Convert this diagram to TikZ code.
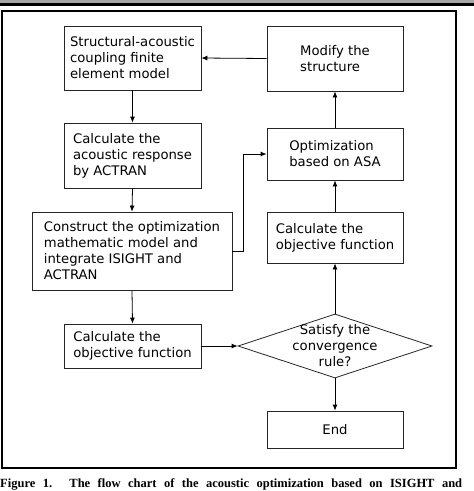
\documentclass[tikz,border=0pt]{standalone}
\usepackage{fontspec}
\setmainfont{DejaVu Sans}
\newfontfamily\capfont{Liberation Serif}
\usetikzlibrary{arrows.meta,shapes.geometric}
\begin{document}
\begin{tikzpicture}[x=1pt,y=-1pt,
  box/.style={draw=black!85, line width=0.8pt, inner sep=0pt, align=left,
    font=\fontsize{13.2}{16}\selectfont, minimum width=137, minimum height=#1},
  arr/.style={line width=0.8pt, -{Latex[length=6pt,width=5pt]}}]
\useasboundingbox (0,0) rectangle (474,491);
\clip (0,0) rectangle (474,491);
% top rule
\fill[black!35] (0,0) rectangle (474,2.5);
\fill[black] (0,3.3) rectangle (474,5.5);
% frame
\draw[line width=2pt] (1.5,11) rectangle (456,468);
% left column
\node[box=64] (b1) at (132.5,58) {Structural-acoustic\\coupling finite\\element model};
\node[box=65] (b2) at (132.5,155.5) {Calculate the\\acoustic response\\by ACTRAN};
\node[box=78, minimum width=200] (b3) at (132,251) {Construct the optimization\\mathematic model and\\integrate ISIGHT and\\ACTRAN};
\node[box=44] (b4) at (132.5,346) {Calculate the\\objective function};
% right column
\node[box=65, minimum width=136] (m) at (335,58.5) {Modify the\\structure};
\node[box=52, minimum width=136] (o) at (335,154) {Optimization\\based on ASA};
\node[box=51, minimum width=136] (c) at (335,237.5) {Calculate the\\objective function};
\node[draw=black!85, line width=0.8pt, diamond, inner sep=0pt, minimum width=194, minimum height=64] (d) at (335,346) {};
\node[align=center, font=\fontsize{13.2}{16}\selectfont] (dt) at (335,346) {Satisfy the\\convergence\\rule?};
\node[box=37, minimum width=136] (e) at (335,429.5) {End};
% connectors
\draw[arr] (m.west) -- (b1.east);
\draw[arr] (b1.south) -- (b2.north);
\draw[arr] (b2.south) -- (b3.north);
\draw[arr] (b3.south) -- (b4.north);
\coordinate (k1) at (243,251);
\draw[arr] (b3.east) -- (k1) |- (o.west);
\draw[arr] (b4.east) -- (d.west);
\draw[arr] (d.north) -- (c.south);
\draw[arr] (c.north) -- (o.south);
\draw[arr] (o.north) -- (m.south);
\draw[arr] (d.south) -- (e.north);
% caption
\node[anchor=base west, inner sep=0pt, font=\capfont\bfseries\fontsize{12.5}{14}\selectfont] (cap) at (0,487.5) {\makebox[462pt][s]{Figure 1. The flow chart of the acoustic optimization based on ISIGHT and}};
\end{tikzpicture}
\end{document}
